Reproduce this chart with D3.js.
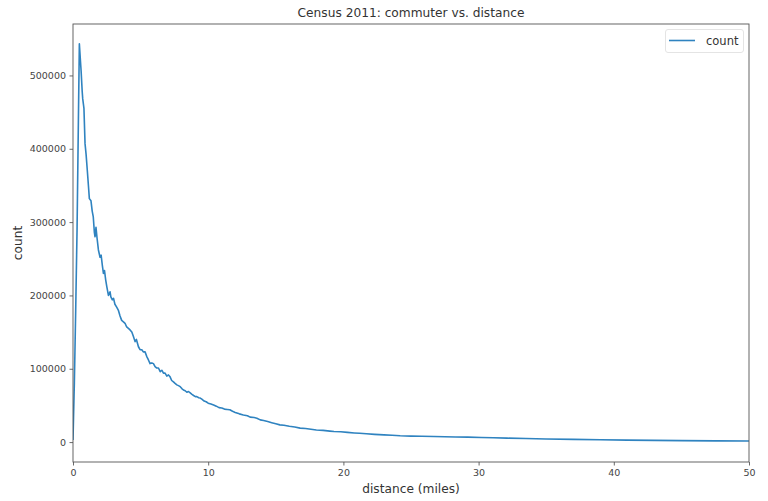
<!DOCTYPE html>
<html>
<head>
<meta charset="utf-8">
<script src="https://cdn.jsdelivr.net/npm/d3@7"></script>
<style>
  html, body { margin: 0; padding: 0; background: #fff; }
  svg { display: block; font-family: "DejaVu Sans", sans-serif; }
</style>
</head>
<body>
<svg id="chart" width="768" height="501"></svg>
<script>
const title = "Census 2011: commuter vs. distance";
const xLabel = "distance (miles)";
const yLabel = "count";
const seriesName = "count";
const xTicks = [0, 10, 20, 30, 40, 50];
const yTicks = [0, 100000, 200000, 300000, 400000, 500000];

const distance = [
  0, 0.1, 0.2, 0.3, 0.4, 0.47, 0.55, 0.6, 0.68, 0.72, 0.81, 0.89, 0.97, 1.06, 1.14, 1.21,
  1.33, 1.42, 1.5, 1.58, 1.63, 1.7, 1.78, 1.88, 2.0, 2.08, 2.17, 2.25, 2.33, 2.42, 2.5,
  2.62, 2.74, 2.8, 2.91, 3.0, 3.1, 3.23, 3.35, 3.48, 3.6, 3.73, 3.85, 3.97, 4.1, 4.22,
  4.35, 4.47, 4.59, 4.69, 4.84, 4.96, 5.09, 5.2, 5.33, 5.45, 5.58, 5.7, 5.83, 5.95, 6.07,
  6.2, 6.32, 6.45, 6.57, 6.69, 6.81, 6.94, 7.06, 7.18, 7.3, 7.43, 7.55, 7.68, 7.8, 7.93,
  8.05, 8.17, 8.3, 8.42, 8.54, 8.67, 8.8, 8.92, 9.05, 9.16, 9.3, 9.41, 9.53, 9.7, 9.85,
  10.0, 10.2, 10.4, 10.6, 10.8, 11.0, 11.2, 11.4, 11.6, 11.8, 12.0, 12.3, 12.6, 12.9,
  13.1, 13.4, 13.6, 13.85, 14.1, 14.4, 14.7, 15.0, 15.3, 15.6, 16.0, 16.4, 16.8, 17.2,
  17.6, 18.0, 18.5, 19.0, 19.3, 19.8, 20.3, 20.8, 21.2, 21.7, 22.3, 23.0, 23.6, 24.2,
  25.0, 25.8, 26.7, 27.5, 28.3, 29.2, 30.2, 31.1, 32.1, 33.5, 35, 37, 39, 41, 43, 45,
  47.5, 50
];
const counts = [
  3000, 80000, 180000, 290000, 440000, 543000, 520000, 506000, 478000, 468000, 455000, 407000, 392000, 370000, 350000, 332000,
  329000, 315000, 307000, 286000, 280000, 293000, 278000, 262000, 252000, 255000, 241000, 230000, 234000, 221000, 212000,
  200000, 205000, 198000, 194000, 196000, 188000, 184000, 180000, 172000, 166000, 164000, 162000, 157000, 155000, 153000,
  150000, 144000, 137000, 140000, 130000, 126000, 126000, 123000, 123000, 117000, 112000, 107000, 108000, 107000, 103000,
  101000, 101000, 96000, 98000, 94000, 94000, 90000, 91600, 89000, 84000, 82000, 80000, 78000, 77000, 75600,
  73000, 71000, 70000, 68000, 69000, 67000, 65000, 63500, 62000, 62000, 60500, 60000, 58500, 56000, 55000,
  53000, 52000, 50700, 49000, 47000, 46500, 45000, 44500, 44000, 42000, 40500, 38500, 37000, 36000,
  34000, 33500, 32600, 30300, 29500, 28000, 26500, 25000, 23500, 23000, 21500, 20500, 19000, 18500,
  17500, 16500, 16000, 15000, 14400, 14000, 13200, 12500, 12000, 11300, 10500, 9800, 9300, 8600,
  8200, 7900, 7600, 7200, 7000, 6800, 6300, 6000, 5400, 4900, 4300, 3700, 3100, 2700, 2300, 2000,
  1700, 1400
];

const data = distance.map((d, i) => ({ x: d, y: counts[i] }));

const svg = d3.select("#chart");
const margin = { left: 73, right: 19, top: 24, bottom: 39 };
const W = 768, H = 501;

const x = d3.scaleLinear().domain([0, 50]).range([margin.left, W - margin.right]);
const yMax = d3.max(counts), yMin = d3.min(counts);
const pad = (yMax - Math.min(0, yMin)) * 0.05;
const y = d3.scaleLinear().domain([Math.min(0, yMin) - pad, yMax + pad]).range([H - margin.bottom, margin.top]);

// clip
svg.append("clipPath").attr("id", "clip").append("rect")
  .attr("x", margin.left).attr("y", margin.top)
  .attr("width", W - margin.left - margin.right)
  .attr("height", H - margin.top - margin.bottom);

// line
const line = d3.line().x(d => x(d.x)).y(d => y(d.y));
svg.append("path")
  .datum(data)
  .attr("clip-path", "url(#clip)")
  .attr("fill", "none")
  .attr("stroke", "#2f83c0")
  .attr("stroke-width", 1.6)
  .attr("stroke-linejoin", "round")
  .attr("d", line);

// axes
const xAxis = d3.axisBottom(x).tickValues(xTicks).tickSize(3.5).tickPadding(3.5).tickFormat(d3.format("d"));
const yAxis = d3.axisLeft(y).tickValues(yTicks).tickSize(3.5).tickPadding(3.5).tickFormat(d3.format("d"));

const gx = svg.append("g").attr("transform", `translate(0,${H - margin.bottom})`).call(xAxis);
const gy = svg.append("g").attr("transform", `translate(${margin.left},0)`).call(yAxis);
[gx, gy].forEach(g => {
  g.select(".domain").remove();
  g.selectAll(".tick line").attr("stroke", "#444").attr("stroke-width", 0.8);
  g.selectAll(".tick text").attr("fill", "#444").style("font-size", "9.5px").style("font-family", "DejaVu Sans");
});

// frame
svg.append("rect")
  .attr("x", margin.left).attr("y", margin.top)
  .attr("width", W - margin.left - margin.right)
  .attr("height", H - margin.top - margin.bottom)
  .attr("fill", "none").attr("stroke", "#555").attr("stroke-width", 0.9);

// title & labels
svg.append("text").attr("x", (margin.left + W - margin.right) / 2).attr("y", 17)
  .attr("text-anchor", "middle").style("font-size", "12.2px").attr("fill", "#333").text(title);
svg.append("text").attr("x", (margin.left + W - margin.right) / 2).attr("y", 493)
  .attr("text-anchor", "middle").style("font-size", "12.2px").attr("fill", "#333").text(xLabel);
svg.append("text").attr("transform", `translate(22,${(margin.top + H - margin.bottom) / 2}) rotate(-90)`)
  .attr("text-anchor", "middle").style("font-size", "12.2px").attr("fill", "#333").text(yLabel);

// legend
const lg = svg.append("g");
lg.append("rect").attr("x", 665.5).attr("y", 29.5).attr("width", 78).attr("height", 23).attr("rx", 2.5)
  .attr("fill", "#fff").attr("stroke", "#ddd").attr("stroke-width", 0.8);
lg.append("line").attr("x1", 669).attr("x2", 695).attr("y1", 40.5).attr("y2", 40.5)
  .attr("stroke", "#2f83c0").attr("stroke-width", 1.6);
lg.append("text").attr("x", 706).attr("y", 45).style("font-size", "11.5px").attr("fill", "#333").text(seriesName);
</script>
</body>
</html>
